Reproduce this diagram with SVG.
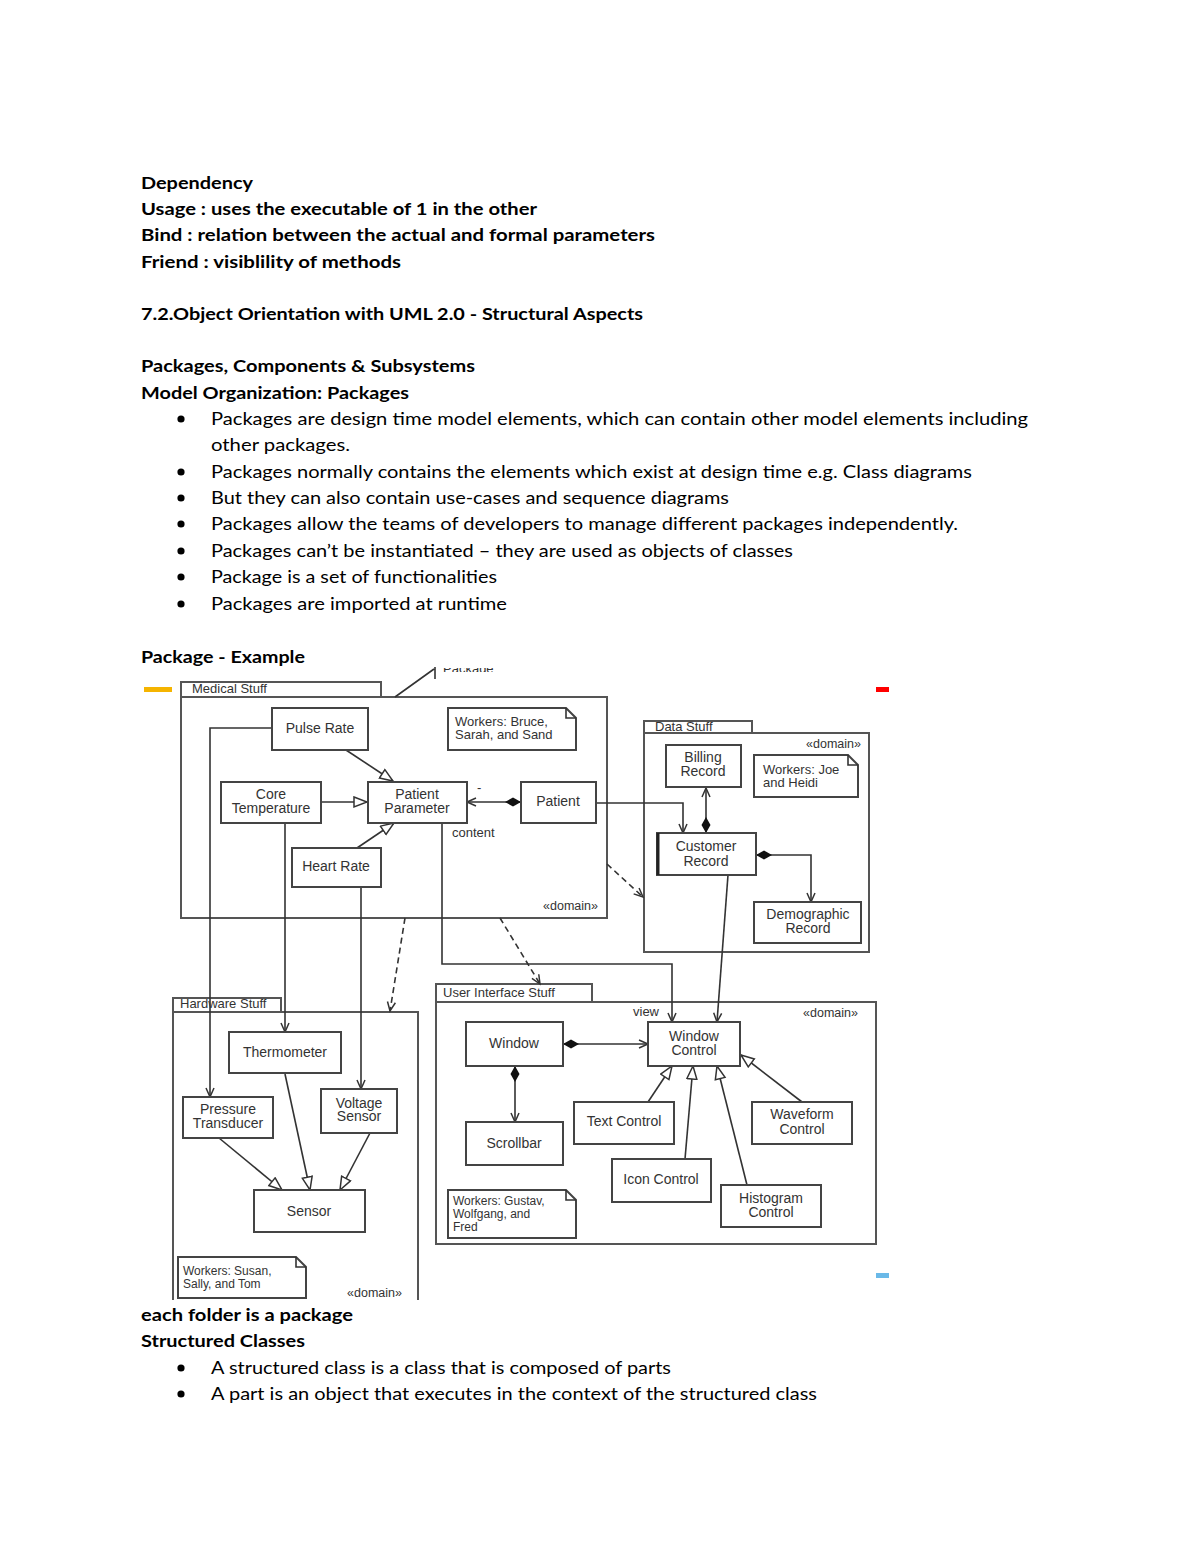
<svg xmlns="http://www.w3.org/2000/svg" width="1200" height="1553" viewBox="0 0 1200 1553">
<style>
.t{font-family:Lato,"Open Sans",sans-serif;font-size:17px;fill:#000}
.b{font-weight:bold}
.d{font-family:"Liberation Sans",Arial,sans-serif;font-size:14px;fill:#333;text-anchor:middle}
.dl{font-family:"Liberation Sans",Arial,sans-serif;font-size:13px;fill:#333}
.ns{font-family:"Liberation Sans",Arial,sans-serif;font-size:12px;fill:#333}
.de{font-family:"Liberation Sans",Arial,sans-serif;font-size:12.5px;fill:#333;text-anchor:end}
.box{fill:#fff;stroke:#444;stroke-width:2}
.pkg{fill:none;stroke:#555;stroke-width:2}
.ln{fill:none;stroke:#333;stroke-width:1.6}
.dash{stroke-dasharray:6 4}
.dot{fill:#000}
</style>
<defs>
<marker id="tri" markerUnits="userSpaceOnUse" markerWidth="16" markerHeight="14" refX="14" refY="6" orient="auto"><path d="M1,1 L14,6 L1,11 Z" fill="#fff" stroke="#333" stroke-width="1.5"/></marker>
<marker id="open" markerUnits="userSpaceOnUse" markerWidth="12" markerHeight="12" refX="10" refY="5" orient="auto"><path d="M1,1 L10,5 L1,9" fill="none" stroke="#333" stroke-width="1.5"/></marker>
<marker id="dia" markerUnits="userSpaceOnUse" markerWidth="18" markerHeight="12" refX="0" refY="6" orient="auto"><path d="M0,6 L8,1.5 L16,6 L8,10.5 Z" fill="#111"/></marker>
<clipPath id="pclip"><rect x="430" y="668" width="100" height="4"/></clipPath>
</defs>
<rect width="1200" height="1553" fill="#fff"/>

<g id="text-top">
<text class="t b" x="141" y="189" textLength="112" lengthAdjust="spacingAndGlyphs">Dependency</text>
<text class="t b" x="141" y="215" textLength="396" lengthAdjust="spacingAndGlyphs">Usage : uses the executable of 1 in the other</text>
<text class="t b" x="141" y="241" textLength="514" lengthAdjust="spacingAndGlyphs">Bind : relation between the actual and formal parameters</text>
<text class="t b" x="141" y="268" textLength="260" lengthAdjust="spacingAndGlyphs">Friend : visiblility of methods</text>
<text class="t b" x="141" y="320" textLength="502" lengthAdjust="spacingAndGlyphs">7.2.Object Orientation with UML 2.0 - Structural Aspects</text>
<text class="t b" x="141" y="372" textLength="334" lengthAdjust="spacingAndGlyphs">Packages, Components &amp; Subsystems</text>
<text class="t b" x="141" y="399" textLength="268" lengthAdjust="spacingAndGlyphs">Model Organization: Packages</text>
<circle class="dot" cx="181" cy="419" r="3.6"/>
<text class="t" x="211" y="425" textLength="817" lengthAdjust="spacingAndGlyphs">Packages are design time model elements, which can contain other model elements including</text>
<text class="t" x="211" y="451" textLength="139" lengthAdjust="spacingAndGlyphs">other packages.</text>
<circle class="dot" cx="181" cy="472" r="3.6"/>
<text class="t" x="211" y="478" textLength="761" lengthAdjust="spacingAndGlyphs">Packages normally contains the elements which exist at  design time e.g. Class diagrams</text>
<circle class="dot" cx="181" cy="498" r="3.6"/>
<text class="t" x="211" y="504" textLength="518" lengthAdjust="spacingAndGlyphs">But they can also contain use-cases and sequence diagrams</text>
<circle class="dot" cx="181" cy="524" r="3.6"/>
<text class="t" x="211" y="530" textLength="747" lengthAdjust="spacingAndGlyphs">Packages allow the teams of developers to manage different packages independently.</text>
<circle class="dot" cx="181" cy="551" r="3.6"/>
<text class="t" x="211" y="557" textLength="582" lengthAdjust="spacingAndGlyphs">Packages can’t be instantiated – they are used as objects of classes</text>
<circle class="dot" cx="181" cy="577" r="3.6"/>
<text class="t" x="211" y="583" textLength="286" lengthAdjust="spacingAndGlyphs">Package is a set of functionalities</text>
<circle class="dot" cx="181" cy="604" r="3.6"/>
<text class="t" x="211" y="610" textLength="296" lengthAdjust="spacingAndGlyphs">Packages are imported at runtime</text>
<text class="t b" x="141" y="663" textLength="164" lengthAdjust="spacingAndGlyphs">Package - Example</text>
</g>

<g id="marks">
<rect x="144" y="687" width="28" height="5" fill="#f5b400"/>
<rect x="876" y="687" width="13" height="5" fill="#ff0000"/>
<rect x="876" y="1273" width="13" height="5" fill="#6ab9e8"/>
</g>

<g id="pkg-medical">
<rect class="pkg" x="181" y="682" width="200" height="15"/>
<rect class="pkg" x="181" y="697" width="426" height="221"/>
<text class="dl" x="192" y="693">Medical Stuff</text>
<text class="de" x="598" y="910">«domain»</text>
</g>
<g id="pkg-data">
<rect class="pkg" x="644" y="721" width="108" height="12"/>
<rect class="pkg" x="644" y="733" width="225" height="219"/>
<text class="dl" x="655" y="731">Data Stuff</text>
<text class="de" x="861" y="748">«domain»</text>
</g>
<g id="pkg-hardware">
<rect class="pkg" x="173" y="998" width="108" height="14"/>
<path class="pkg" d="M173,1300 V1012 H418 V1300"/>
<text class="dl" x="180" y="1008">Hardware Stuff</text>
<text class="de" x="402" y="1297">«domain»</text>
</g>
<g id="pkg-ui">
<rect class="pkg" x="436" y="984" width="156" height="18"/>
<rect class="pkg" x="436" y="1002" width="440" height="242"/>
<text class="dl" x="443" y="997">User Interface Stuff</text>
<text class="de" x="858" y="1017">«domain»</text>
</g>

<g id="connectors">
<path class="ln" d="M395,697 L434,669 M435,667 V679"/>
<text class="dl" x="443" y="673" fill="#aaa" clip-path="url(#pclip)" font-size="12">Package</text>
<path class="ln" d="M346,750 L393,781" marker-end="url(#tri)"/>
<path class="ln" d="M321,802 L367,802" marker-end="url(#tri)"/>
<path class="ln" d="M357,848 L394,823" marker-end="url(#tri)"/>
<path class="ln" d="M521,802 L467,802" marker-start="url(#dia)" marker-end="url(#open)"/>
<text class="dl" x="477" y="792">-</text>
<text class="dl" x="452" y="837">content</text>
<path class="ln" d="M272,728 H210 V1097" marker-end="url(#open)"/>
<path class="ln" d="M285,823 V1032" marker-end="url(#open)"/>
<path class="ln" d="M361,887 V1089" marker-end="url(#open)"/>
<path class="ln" d="M442,823 V964 H672 V1022" marker-end="url(#open)"/>
<text class="dl" x="633" y="1016">view</text>
<path class="ln" d="M596,803 H683 V833" marker-end="url(#open)"/>
<path class="ln" d="M728,875 L717,1022" marker-end="url(#open)"/>
<path class="ln" d="M706,833 V788" stroke-width="2" marker-start="url(#dia)" marker-end="url(#open)"/>
<path class="ln" d="M756,855 H811 V902" marker-start="url(#dia)" marker-end="url(#open)"/>
<path class="ln dash" d="M607,864 L643,897" marker-end="url(#open)"/>
<path class="ln dash" d="M405,918 L390,1011" marker-end="url(#open)"/>
<path class="ln dash" d="M500,918 L540,984" marker-end="url(#open)"/>
<path class="ln" d="M219,1138 L282,1190" marker-end="url(#tri)"/>
<path class="ln" d="M285,1074 L310,1190" marker-end="url(#tri)"/>
<path class="ln" d="M370,1133 L340,1190" marker-end="url(#tri)"/>
<path class="ln" d="M563,1044 H648" marker-start="url(#dia)" marker-end="url(#open)"/>
<path class="ln" d="M515,1066 V1122" stroke-width="2.6" marker-start="url(#dia)" marker-end="url(#open)"/>
<path class="ln" d="M648,1102 L672,1066" marker-end="url(#tri)"/>
<path class="ln" d="M685,1159 L693,1066" marker-end="url(#tri)"/>
<path class="ln" d="M747,1185 L717,1066" marker-end="url(#tri)"/>
<path class="ln" d="M802,1102 L741,1055" marker-end="url(#tri)"/>
</g>

<g id="pulse-rate"><rect class="box" x="272" y="708" width="96" height="42"/><text class="d" x="320" y="733">Pulse Rate</text></g>
<g id="note-bruce"><path class="box" d="M448,708 H566 L576,718 V750 H448 Z"/><path class="ln" d="M566,708 V718 H576"/><text class="dl" x="455" y="726">Workers: Bruce,</text><text class="dl" x="455" y="739">Sarah, and Sand</text></g>
<g id="core-temperature"><rect class="box" x="221" y="782" width="100" height="41"/><text class="d" x="271" y="799">Core</text><text class="d" x="271" y="813">Temperature</text></g>
<g id="patient-parameter"><rect class="box" x="368" y="782" width="99" height="41"/><text class="d" x="417" y="799">Patient</text><text class="d" x="417" y="813">Parameter</text></g>
<g id="patient"><rect class="box" x="521" y="782" width="75" height="41"/><text class="d" x="558" y="806">Patient</text></g>
<g id="heart-rate"><rect class="box" x="292" y="848" width="89" height="39"/><text class="d" x="336" y="871">Heart Rate</text></g>

<g id="billing-record"><rect class="box" x="666" y="745" width="75" height="42"/><text class="d" x="703" y="762">Billing</text><text class="d" x="703" y="776">Record</text></g>
<g id="note-joe"><path class="box" d="M754,755 H848 L858,765 V797 H754 Z"/><path class="ln" d="M848,755 V765 H858"/><text class="dl" x="763" y="774">Workers: Joe</text><text class="dl" x="763" y="787">and Heidi</text></g>
<g id="customer-record"><rect class="box" x="657" y="833" width="99" height="42"/><path d="M658,833 V875" stroke="#222" stroke-width="3"/><text class="d" x="706" y="851">Customer</text><text class="d" x="706" y="866">Record</text></g>
<g id="demographic-record"><rect class="box" x="754" y="902" width="107" height="41"/><text class="d" x="808" y="919">Demographic</text><text class="d" x="808" y="933">Record</text></g>

<g id="thermometer"><rect class="box" x="229" y="1032" width="112" height="41"/><text class="d" x="285" y="1057">Thermometer</text></g>
<g id="pressure-transducer"><rect class="box" x="183" y="1097" width="90" height="41"/><text class="d" x="228" y="1114">Pressure</text><text class="d" x="228" y="1128">Transducer</text></g>
<g id="voltage-sensor"><rect class="box" x="321" y="1089" width="76" height="44"/><text class="d" x="359" y="1108">Voltage</text><text class="d" x="359" y="1121">Sensor</text></g>
<g id="sensor"><rect class="box" x="254" y="1190" width="111" height="42"/><text class="d" x="309" y="1216">Sensor</text></g>
<g id="note-susan"><path class="box" d="M178,1257 H296 L306,1267 V1298 H178 Z"/><path class="ln" d="M296,1257 V1267 H306"/><text class="ns" x="183" y="1275">Workers: Susan,</text><text class="ns" x="183" y="1288">Sally, and Tom</text></g>

<g id="window"><rect class="box" x="466" y="1022" width="97" height="44"/><text class="d" x="514" y="1048">Window</text></g>
<g id="window-control"><rect class="box" x="648" y="1022" width="92" height="44"/><text class="d" x="694" y="1041">Window</text><text class="d" x="694" y="1055">Control</text></g>
<g id="scrollbar"><rect class="box" x="466" y="1122" width="97" height="43"/><text class="d" x="514" y="1148">Scrollbar</text></g>
<g id="text-control"><rect class="box" x="574" y="1102" width="100" height="42"/><text class="d" x="624" y="1126">Text Control</text></g>
<g id="waveform-control"><rect class="box" x="752" y="1102" width="100" height="42"/><text class="d" x="802" y="1119">Waveform</text><text class="d" x="802" y="1134">Control</text></g>
<g id="icon-control"><rect class="box" x="612" y="1159" width="99" height="43"/><text class="d" x="661" y="1184">Icon Control</text></g>
<g id="histogram-control"><rect class="box" x="721" y="1185" width="100" height="42"/><text class="d" x="771" y="1203">Histogram</text><text class="d" x="771" y="1217">Control</text></g>
<g id="note-gustav"><path class="box" d="M448,1190 H566 L576,1200 V1238 H448 Z"/><path class="ln" d="M566,1190 V1200 H576"/><text class="ns" x="453" y="1205">Workers: Gustav,</text><text class="ns" x="453" y="1218">Wolfgang, and</text><text class="ns" x="453" y="1231">Fred</text></g>

<g id="text-bottom">
<text class="t b" x="141" y="1321" textLength="212" lengthAdjust="spacingAndGlyphs">each folder is a package</text>
<text class="t b" x="141" y="1347" textLength="164" lengthAdjust="spacingAndGlyphs">Structured Classes</text>
<circle class="dot" cx="181" cy="1368" r="3.6"/>
<text class="t" x="211" y="1374" textLength="460" lengthAdjust="spacingAndGlyphs">A structured class is a class that is composed of parts</text>
<circle class="dot" cx="181" cy="1394" r="3.6"/>
<text class="t" x="211" y="1400" textLength="606" lengthAdjust="spacingAndGlyphs">A part is an object that executes in the context of the structured class</text>
</g>
</svg>
